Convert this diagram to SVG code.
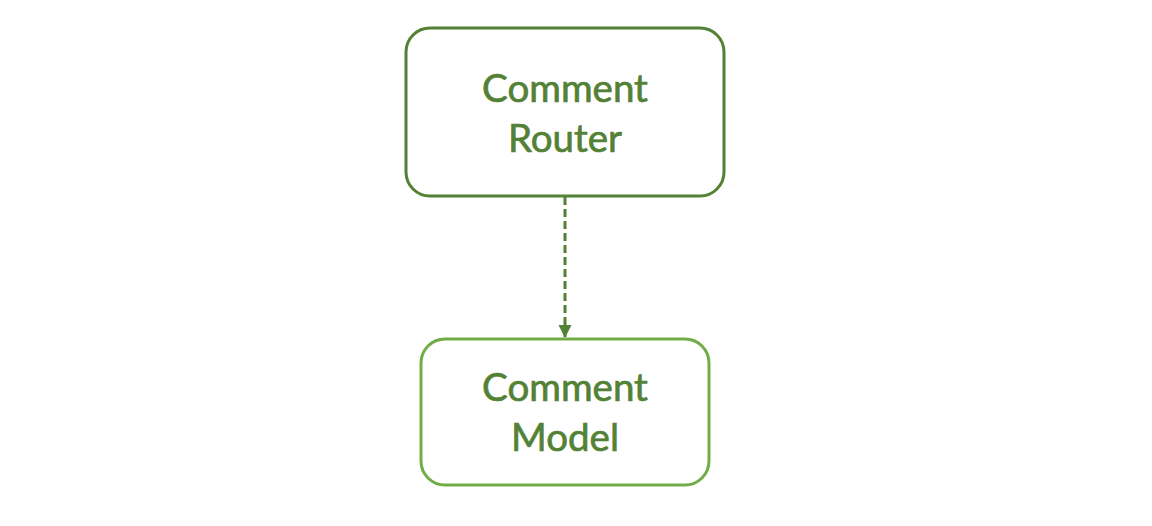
<svg xmlns="http://www.w3.org/2000/svg" width="1152" height="526" viewBox="0 0 1152 526">
<style>
.lbl{font-family:Lato,"Open Sans","Liberation Sans",sans-serif;font-size:38.5px;fill:#538135;stroke:#538135;stroke-width:0.7px;text-anchor:middle}
.box{fill:#ffffff;stroke-width:3}
</style>
<defs>
<marker id="ah" markerWidth="14" markerHeight="14" refX="13" refY="7" orient="auto" markerUnits="userSpaceOnUse">
<path d="M0,0.5 L13,7 L0,13.5 Z" fill="#538135"/>
</marker>
</defs>
<rect width="1152" height="526" fill="#ffffff"/>
<g id="connectors">
<line x1="565" y1="197" x2="565" y2="338" stroke="#538135" stroke-width="3" stroke-dasharray="8,4" marker-end="url(#ah)"/>
</g>
<g id="router">
<rect class="box" x="406" y="28" width="318" height="168" rx="24" stroke="#538135"/>
<text class="lbl" x="565" y="102">Comment</text>
<text class="lbl" x="565" y="152">Router</text>
</g>
<g id="model">
<rect class="box" x="421" y="339" width="288" height="146" rx="24" stroke="#70AD47"/>
<text class="lbl" x="565" y="401">Comment</text>
<text class="lbl" x="565" y="451">Model</text>
</g>
</svg>
